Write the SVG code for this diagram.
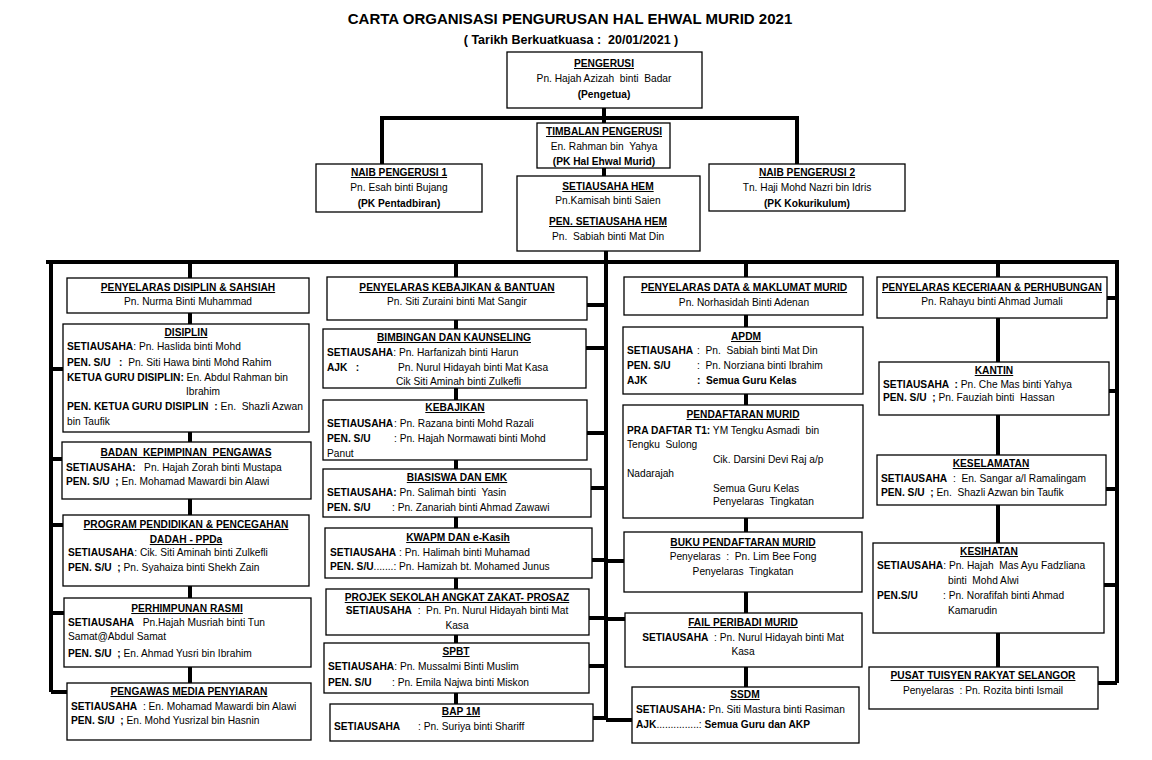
<svg xmlns="http://www.w3.org/2000/svg" width="1152" height="760" viewBox="0 0 1152 760">
<style>
text{font-family:"Liberation Sans",Arial,sans-serif;font-size:10.2px;fill:#000;white-space:pre}
.b{fill:#fff;stroke:#000;stroke-width:1.3}
.h{font-weight:bold;text-decoration:underline;text-anchor:middle}
.c{text-anchor:middle}
.k{font-weight:bold}
.l{stroke:#000;stroke-width:4;fill:none}
</style>
<rect width="1152" height="760" fill="#fff"/>
<text x="570" y="24" class="c k" style="font-size:15px">CARTA ORGANISASI PENGURUSAN HAL EHWAL MURID 2021</text>
<text x="571" y="44" class="c k" style="font-size:12.5px">( Tarikh Berkuatkuasa :  20/01/2021 )</text>
<g id="connectors">
<path class="l" d="M604 108V123M382 164V118H797V164M604 168V176M606 251V720M46 262H1119M51 262V692M1117 262V683"/>
<path class="l" d="M190 262V683M456 262V704M746 262V687M998 262V667"/>
<path class="l" d="M51 369H63M51 459H62M51 525H63M51 613H64M51 692H67"/>
<path class="l" d="M587 305H606M586 348H606M587 433H606M591 488H606M592 560H606M589 618H606M589 666H606M593 718H606"/>
<path class="l" d="M606 561H624M606 619H625M606 720H632"/>
<path class="l" d="M1107 298H1117M1109 391H1117M1106 489H1117M1104 585H1117M1098 683H1117"/>
</g>
<g id="pengerusi"><rect class="b" x="507" y="52" width="195" height="56"/>
<text x="604" y="67" class="h">PENGERUSI</text><text x="604" y="82" class="c">Pn. Hajah Azizah  binti  Badar</text><text x="604" y="98" class="c k">(Pengetua)</text></g>
<g id="timbalan"><rect class="b" x="537" y="123" width="133" height="45"/>
<text x="604" y="135" class="h">TIMBALAN PENGERUSI</text><text x="604" y="150" class="c">En. Rahman bin  Yahya</text><text x="604" y="165" class="c k">(PK Hal Ehwal Murid)</text></g>
<g id="naib1"><rect class="b" x="316" y="164" width="166" height="48"/>
<text x="399" y="176" class="h">NAIB PENGERUSI 1</text><text x="399" y="191" class="c">Pn. Esah binti Bujang</text><text x="399" y="207" class="c k">(PK Pentadbiran)</text></g>
<g id="naib2"><rect class="b" x="709" y="164" width="196" height="47"/>
<text x="807" y="176" class="h">NAIB PENGERUSI 2</text><text x="807" y="191" class="c">Tn. Haji Mohd Nazri bin Idris</text><text x="807" y="207" class="c k">(PK Kokurikulum)</text></g>
<g id="setiausaha-hem"><rect class="b" x="517" y="176" width="183" height="75"/>
<text x="608" y="190" class="h">SETIAUSAHA HEM</text><text x="608" y="204" class="c">Pn.Kamisah binti Saien</text><text x="608" y="225" class="h">PEN. SETIAUSAHA HEM</text><text x="608" y="240" class="c">Pn.  Sabiah binti Mat Din</text></g>

<g id="penyelaras-disiplin"><rect class="b" x="67" y="278" width="242" height="35"/>
<text x="188" y="291" class="h">PENYELARAS DISIPLIN &amp; SAHSIAH</text><text x="188" y="305" class="c">Pn. Nurma Binti Muhammad</text></g>
<g id="disiplin"><rect class="b" x="63" y="324" width="246" height="108"/>
<text x="186" y="336" class="h">DISIPLIN</text>
<text x="67" y="350"><tspan class="k">SETIAUSAHA</tspan>: Pn. Haslida binti Mohd</text>
<text x="67" y="366"><tspan class="k">PEN. S/U   :</tspan>  Pn. Siti Hawa binti Mohd Rahim</text>
<text x="67" y="381"><tspan class="k">KETUA GURU DISIPLIN:</tspan> En. Abdul Rahman bin</text>
<text x="186" y="395">Ibrahim</text>
<text x="67" y="410" textLength="236" lengthAdjust="spacingAndGlyphs"><tspan class="k">PEN. KETUA GURU DISIPLIN  :</tspan> En.  Shazli Azwan</text>
<text x="67" y="425">bin Taufik</text></g>
<g id="badan-pengawas"><rect class="b" x="62" y="442" width="249" height="57"/>
<text x="186" y="456" class="h">BADAN  KEPIMPINAN  PENGAWAS</text>
<text x="66" y="471"><tspan class="k">SETIAUSAHA:</tspan>   Pn. Hajah Zorah binti Mustapa</text>
<text x="66" y="485"><tspan class="k">PEN. S/U  ;</tspan> En. Mohamad Mawardi bin Alawi</text></g>
<g id="ppda"><rect class="b" x="63" y="515" width="246" height="71"/>
<text x="186" y="528" class="h">PROGRAM PENDIDIKAN &amp; PENCEGAHAN</text>
<text x="186" y="543" class="h">DADAH - PPDa</text>
<text x="68" y="556"><tspan class="k">SETIAUSAHA</tspan>: Cik. Siti Aminah binti Zulkefli</text>
<text x="68" y="571"><tspan class="k">PEN. S/U  ;</tspan> Pn. Syahaiza binti Shekh Zain</text></g>
<g id="perhimpunan"><rect class="b" x="64" y="598" width="247" height="69"/>
<text x="187" y="612" class="h">PERHIMPUNAN RASMI</text>
<text x="68" y="626"><tspan class="k">SETIAUSAHA</tspan>   Pn.Hajah Musriah binti Tun</text>
<text x="68" y="640">Samat@Abdul Samat</text>
<text x="68" y="657"><tspan class="k">PEN. S/U  ;</tspan> En. Ahmad Yusri bin Ibrahim</text></g>
<g id="media"><rect class="b" x="67" y="683" width="244" height="57"/>
<text x="189" y="695" class="h">PENGAWAS MEDIA PENYIARAN</text>
<text x="71" y="710"><tspan class="k">SETIAUSAHA</tspan>  : En. Mohamad Mawardi bin Alawi</text>
<text x="71" y="724"><tspan class="k">PEN. S/U  ;</tspan> En. Mohd Yusrizal bin Hasnin</text></g>

<g id="penyelaras-kebajikan"><rect class="b" x="327" y="277" width="260" height="43"/>
<text x="457" y="291" class="h">PENYELARAS KEBAJIKAN &amp; BANTUAN</text><text x="457" y="305" class="c">Pn. Siti Zuraini binti Mat Sangir</text></g>
<g id="bimbingan"><rect class="b" x="323" y="329" width="263" height="59"/>
<text x="454" y="341" class="h">BIMBINGAN DAN KAUNSELING</text>
<text x="327" y="356"><tspan class="k">SETIAUSAHA</tspan>: Pn. Harfanizah binti Harun</text>
<text x="327" y="371" class="k">AJK   :</text><text x="398" y="371">Pn. Nurul Hidayah binti Mat Kasa</text>
<text x="396" y="385">Cik Siti Aminah binti Zulkefli</text></g>
<g id="kebajikan"><rect class="b" x="323" y="400" width="264" height="60"/>
<text x="455" y="411" class="h">KEBAJIKAN</text>
<text x="327" y="427" class="k">SETIAUSAHA</text><text x="394" y="427">: Pn. Razana binti Mohd Razali</text>
<text x="327" y="442" class="k">PEN. S/U</text><text x="394" y="442">: Pn. Hajah Normawati binti Mohd</text>
<text x="327" y="457">Panut</text></g>
<g id="biasiswa"><rect class="b" x="323" y="469" width="268" height="48"/>
<text x="457" y="481" class="h">BIASISWA DAN EMK</text>
<text x="327" y="496"><tspan class="k">SETIAUSAHA:</tspan> Pn. Salimah binti  Yasin</text>
<text x="327" y="511" class="k">PEN. S/U</text><text x="392" y="511">: Pn. Zanariah binti Ahmad Zawawi</text></g>
<g id="kwapm"><rect class="b" x="325" y="528" width="267" height="50"/>
<text x="458" y="541" class="h">KWAPM DAN e-Kasih</text>
<text x="330" y="556" class="k">SETIAUSAHA</text><text x="399" y="556">: Pn. Halimah binti Muhamad</text>
<text x="330" y="570"><tspan class="k">PEN. S/U</tspan>.......: Pn. Hamizah bt. Mohamed Junus</text></g>
<g id="prosaz"><rect class="b" x="326" y="589" width="263" height="46"/>
<text x="457" y="601" class="h">PROJEK SEKOLAH ANGKAT ZAKAT- PROSAZ</text>
<text x="457" y="614" class="c"><tspan class="k">SETIAUSAHA</tspan>  :  Pn. Pn. Nurul Hidayah binti Mat</text>
<text x="457" y="629" class="c">Kasa</text></g>
<g id="spbt"><rect class="b" x="324" y="643" width="265" height="50"/>
<text x="456" y="655" class="h">SPBT</text>
<text x="328" y="670"><tspan class="k">SETIAUSAHA</tspan>: Pn. Mussalmi Binti Muslim</text>
<text x="328" y="686" class="k">PEN. S/U</text><text x="392" y="686">: Pn. Emila Najwa binti Miskon</text></g>
<g id="bap1m"><rect class="b" x="330" y="704" width="263" height="37"/>
<text x="461" y="715" class="h">BAP 1M</text>
<text x="334" y="730" class="k">SETIAUSAHA</text><text x="418" y="730">: Pn. Suriya binti Shariff</text></g>

<g id="penyelaras-data"><rect class="b" x="624" y="277" width="239" height="38"/>
<text x="744" y="291" class="h">PENYELARAS DATA &amp; MAKLUMAT MURID</text><text x="744" y="306" class="c">Pn. Norhasidah Binti Adenan</text></g>
<g id="apdm"><rect class="b" x="623" y="327" width="240" height="67"/>
<text x="746" y="340" class="h">APDM</text>
<text x="627" y="354" class="k">SETIAUSAHA</text><text x="697" y="354">:  Pn.  Sabiah binti Mat Din</text>
<text x="627" y="369" class="k">PEN. S/U</text><text x="697" y="369">:  Pn. Norziana binti Ibrahim</text>
<text x="627" y="384" class="k">AJK</text><text x="697" y="384" class="k">:  Semua Guru Kelas</text></g>
<g id="pendaftaran"><rect class="b" x="623" y="405" width="240" height="113"/>
<text x="743" y="418" class="h">PENDAFTARAN MURID</text>
<text x="627" y="434"><tspan class="k">PRA DAFTAR T1:</tspan> YM Tengku Asmadi  bin</text>
<text x="627" y="448">Tengku  Sulong</text>
<text x="713" y="463">Cik. Darsini Devi Raj a/p</text>
<text x="627" y="477">Nadarajah</text>
<text x="713" y="492">Semua Guru Kelas</text>
<text x="713" y="505">Penyelaras  Tingkatan</text></g>
<g id="buku-pendaftaran"><rect class="b" x="624" y="532" width="238" height="60"/>
<text x="743" y="546" class="h">BUKU PENDAFTARAN MURID</text>
<text x="743" y="560" class="c">Penyelaras  :  Pn. Lim Bee Fong</text>
<text x="743" y="575" class="c">Penyelaras  Tingkatan</text></g>
<g id="fail-peribadi"><rect class="b" x="625" y="613" width="237" height="54"/>
<text x="743" y="626" class="h">FAIL PERIBADI MURID</text>
<text x="743" y="641" class="c"><tspan class="k">SETIAUSAHA</tspan>  : Pn. Nurul Hidayah binti Mat</text>
<text x="743" y="655" class="c">Kasa</text></g>
<g id="ssdm"><rect class="b" x="632" y="687" width="227" height="56"/>
<text x="745" y="698" class="h">SSDM</text>
<text x="636" y="713"><tspan class="k">SETIAUSAHA:</tspan> Pn. Siti Mastura binti Rasiman</text>
<text x="636" y="728"><tspan class="k">AJK</tspan>...............: <tspan class="k">Semua Guru dan AKP</tspan></text></g>

<g id="penyelaras-keceriaan"><rect class="b" x="877" y="277" width="230" height="41"/>
<text x="992" y="291" class="h" textLength="220" lengthAdjust="spacingAndGlyphs">PENYELARAS KECERIAAN &amp; PERHUBUNGAN</text><text x="992" y="305" class="c">Pn. Rahayu binti Ahmad Jumali</text></g>
<g id="kantin"><rect class="b" x="879" y="362" width="230" height="53"/>
<text x="994" y="374" class="h">KANTIN</text>
<text x="883" y="388"><tspan class="k">SETIAUSAHA  :</tspan> Pn. Che Mas binti Yahya</text>
<text x="883" y="401"><tspan class="k">PEN. S/U  ;</tspan> Pn. Fauziah binti  Hassan</text></g>
<g id="keselamatan"><rect class="b" x="877" y="455" width="229" height="50"/>
<text x="991" y="467" class="h">KESELAMATAN</text>
<text x="881" y="482"><tspan class="k">SETIAUSAHA</tspan>  :  En. Sangar a/l Ramalingam</text>
<text x="881" y="496"><tspan class="k">PEN. S/U  ;</tspan> En.  Shazli Azwan bin Taufik</text></g>
<g id="kesihatan"><rect class="b" x="873" y="543" width="231" height="90"/>
<text x="989" y="555" class="h">KESIHATAN</text>
<text x="877" y="569"><tspan class="k">SETIAUSAHA</tspan>: Pn. Hajah  Mas Ayu Fadzliana</text>
<text x="948" y="584">binti  Mohd Alwi</text>
<text x="877" y="599" class="k">PEN.S/U</text><text x="943" y="599">: Pn. Norafifah binti Ahmad</text>
<text x="948" y="614">Kamarudin</text></g>
<g id="pusat-tuisyen"><rect class="b" x="869" y="667" width="229" height="42"/>
<text x="983" y="679" class="h">PUSAT TUISYEN RAKYAT SELANGOR</text>
<text x="983" y="694" class="c">Penyelaras  : Pn. Rozita binti Ismail</text></g>
</svg>
